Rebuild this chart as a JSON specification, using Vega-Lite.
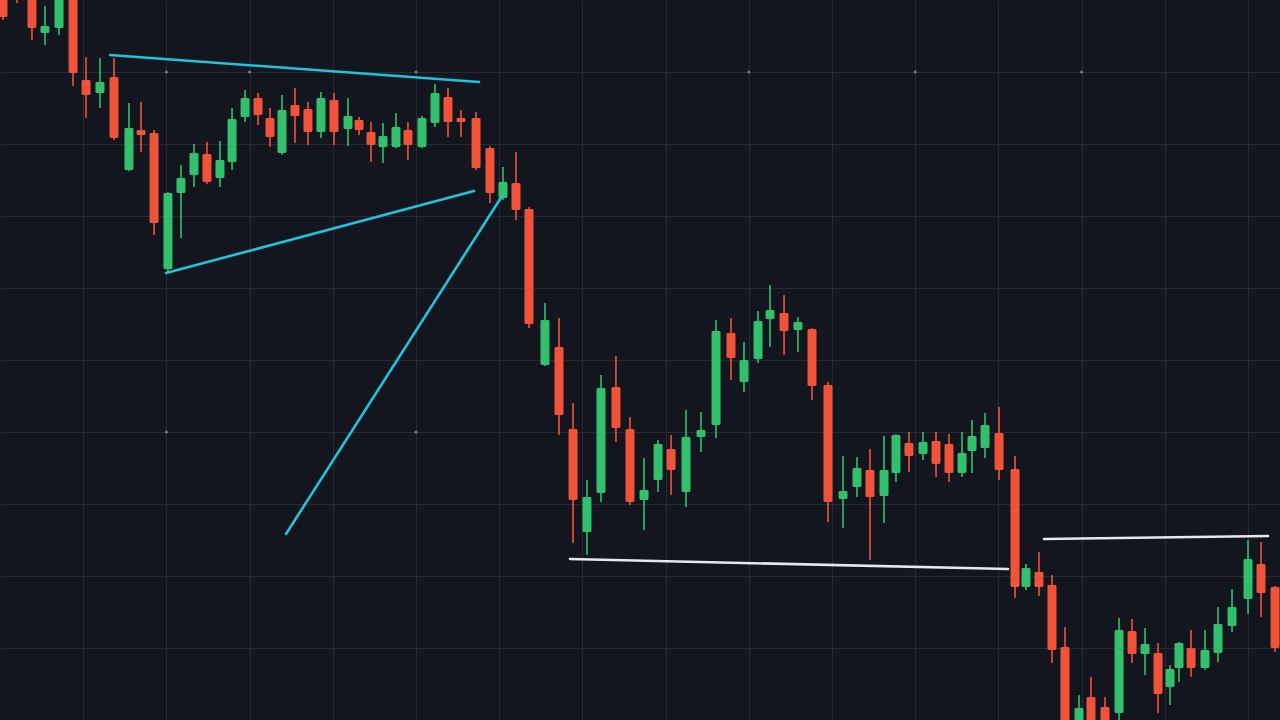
{
  "$schema": "https://vega.github.io/schema/vega-lite/v6.json",
  "autosize": {"type": "fit", "contains": "padding"},
  "width": 1280,
  "height": 720,
  "padding": 0,
  "background": "#13161f",
  "config": {
    "view": {"stroke": null},
    "axis": {"domain": false, "ticks": false, "labels": false, "title": null, "minExtent": 0, "maxExtent": 0, "gridColor": "#272b37", "gridWidth": 1, "gridOpacity": 1}
  },
  "datasets": {
    "candles": [
      {"t":0.23,"o":201.39,"h":202.78,"l":197.22,"c":197.64},
      {"t":1.31,"o":204.17,"h":205.0,"l":199.58,"c":200.69},
      {"t":2.46,"o":200.69,"h":201.39,"l":194.44,"c":196.11},
      {"t":3.46,"o":195.42,"h":199.17,"l":193.75,"c":196.39},
      {"t":4.54,"o":196.11,"h":201.39,"l":195.14,"c":200.69},
      {"t":5.62,"o":200.69,"h":201.39,"l":188.06,"c":189.86},
      {"t":6.62,"o":188.89,"h":192.08,"l":183.61,"c":186.81},
      {"t":7.69,"o":187.08,"h":191.94,"l":185.0,"c":188.61},
      {"t":8.77,"o":189.31,"h":191.94,"l":180.56,"c":180.83},
      {"t":9.92,"o":176.39,"h":185.69,"l":176.2,"c":182.22},
      {"t":10.85,"o":181.94,"h":185.83,"l":178.89,"c":181.25},
      {"t":11.85,"o":181.53,"h":181.94,"l":167.36,"c":169.03},
      {"t":12.92,"o":162.64,"h":173.3,"l":162.22,"c":173.19},
      {"t":13.92,"o":173.19,"h":177.08,"l":166.94,"c":175.28},
      {"t":14.92,"o":175.69,"h":180.0,"l":174.03,"c":178.75},
      {"t":15.92,"o":178.61,"h":180.28,"l":174.4,"c":174.72},
      {"t":16.92,"o":175.28,"h":180.42,"l":174.03,"c":177.78},
      {"t":17.85,"o":177.5,"h":185.0,"l":176.39,"c":183.47},
      {"t":18.85,"o":183.75,"h":187.5,"l":183.06,"c":186.39},
      {"t":19.85,"o":186.39,"h":187.08,"l":182.64,"c":184.03},
      {"t":20.77,"o":183.61,"h":185.0,"l":179.58,"c":180.97},
      {"t":21.69,"o":178.75,"h":186.81,"l":178.5,"c":184.72},
      {"t":22.69,"o":185.42,"h":187.78,"l":180.14,"c":183.89},
      {"t":23.69,"o":184.86,"h":185.83,"l":179.86,"c":181.67},
      {"t":24.69,"o":181.67,"h":187.22,"l":180.83,"c":186.39},
      {"t":25.69,"o":186.11,"h":187.08,"l":179.86,"c":181.67},
      {"t":26.77,"o":182.08,"h":186.39,"l":179.72,"c":183.89},
      {"t":27.62,"o":183.33,"h":183.75,"l":181.25,"c":181.94},
      {"t":28.54,"o":181.67,"h":183.06,"l":177.5,"c":179.86},
      {"t":29.46,"o":179.58,"h":182.92,"l":177.36,"c":181.11},
      {"t":30.46,"o":179.58,"h":184.31,"l":179.4,"c":182.36},
      {"t":31.38,"o":181.94,"h":183.06,"l":177.78,"c":179.86},
      {"t":32.46,"o":179.58,"h":183.89,"l":179.44,"c":183.61},
      {"t":33.46,"o":182.92,"h":188.33,"l":182.36,"c":187.08},
      {"t":34.46,"o":186.53,"h":187.78,"l":180.97,"c":183.06},
      {"t":35.46,"o":183.61,"h":184.72,"l":180.97,"c":183.06},
      {"t":36.62,"o":183.61,"h":184.44,"l":176.39,"c":176.67},
      {"t":37.69,"o":179.44,"h":179.72,"l":171.81,"c":173.19},
      {"t":38.69,"o":172.5,"h":176.81,"l":172.22,"c":174.72},
      {"t":39.69,"o":174.58,"h":178.89,"l":169.44,"c":170.83},
      {"t":40.69,"o":170.97,"h":171.25,"l":154.44,"c":155.0},
      {"t":41.92,"o":149.31,"h":157.92,"l":149.17,"c":155.56},
      {"t":43.0,"o":151.81,"h":155.83,"l":139.58,"c":142.36},
      {"t":44.08,"o":140.42,"h":144.03,"l":124.58,"c":130.56},
      {"t":45.15,"o":126.11,"h":133.33,"l":122.92,"c":130.97},
      {"t":46.23,"o":131.53,"h":147.92,"l":130.28,"c":146.11},
      {"t":47.38,"o":146.25,"h":150.56,"l":138.61,"c":140.56},
      {"t":48.46,"o":140.42,"h":142.08,"l":129.86,"c":130.28},
      {"t":49.54,"o":130.56,"h":136.39,"l":126.39,"c":131.94},
      {"t":50.62,"o":133.33,"h":138.89,"l":131.67,"c":138.33},
      {"t":51.62,"o":137.64,"h":139.58,"l":131.25,"c":134.72},
      {"t":52.77,"o":131.67,"h":143.06,"l":129.58,"c":139.31},
      {"t":53.92,"o":139.31,"h":142.78,"l":137.22,"c":140.28},
      {"t":55.08,"o":140.97,"h":155.56,"l":139.17,"c":154.03},
      {"t":56.23,"o":153.75,"h":155.83,"l":147.22,"c":150.28},
      {"t":57.23,"o":146.94,"h":152.5,"l":145.56,"c":150.0},
      {"t":58.31,"o":150.14,"h":156.81,"l":149.58,"c":155.42},
      {"t":59.23,"o":155.69,"h":160.42,"l":151.81,"c":156.94},
      {"t":60.31,"o":156.53,"h":159.03,"l":150.69,"c":154.03},
      {"t":61.38,"o":154.17,"h":155.97,"l":151.11,"c":155.28},
      {"t":62.46,"o":154.31,"h":154.4,"l":144.44,"c":146.39},
      {"t":63.69,"o":146.53,"h":146.94,"l":127.5,"c":130.28},
      {"t":64.85,"o":130.69,"h":136.67,"l":126.67,"c":131.81},
      {"t":65.92,"o":132.36,"h":136.53,"l":130.97,"c":135.0},
      {"t":66.92,"o":134.72,"h":137.64,"l":122.22,"c":130.97},
      {"t":68.0,"o":131.11,"h":139.44,"l":127.36,"c":134.72},
      {"t":68.92,"o":134.31,"h":139.7,"l":133.06,"c":139.58},
      {"t":69.92,"o":138.47,"h":140.0,"l":134.44,"c":136.67},
      {"t":71.0,"o":136.94,"h":140.0,"l":136.11,"c":138.61},
      {"t":72.0,"o":138.75,"h":140.0,"l":133.75,"c":135.56},
      {"t":73.0,"o":138.33,"h":139.72,"l":133.06,"c":134.31},
      {"t":74.0,"o":134.31,"h":140.0,"l":133.75,"c":137.08},
      {"t":74.77,"o":137.36,"h":141.67,"l":134.31,"c":139.44},
      {"t":75.77,"o":137.78,"h":142.64,"l":136.39,"c":140.97},
      {"t":76.85,"o":139.86,"h":143.47,"l":133.33,"c":134.72},
      {"t":78.08,"o":134.86,"h":136.67,"l":116.94,"c":118.47},
      {"t":78.92,"o":118.47,"h":121.67,"l":118.06,"c":121.11},
      {"t":79.92,"o":120.56,"h":123.33,"l":117.22,"c":118.47},
      {"t":80.92,"o":118.75,"h":120.14,"l":107.92,"c":109.72},
      {"t":81.92,"o":110.14,"h":112.92,"l":98.33,"c":99.31},
      {"t":83.0,"o":99.31,"h":103.47,"l":98.33,"c":101.67},
      {"t":83.92,"o":103.19,"h":105.97,"l":98.33,"c":99.31},
      {"t":85.0,"o":101.81,"h":103.19,"l":98.33,"c":99.31},
      {"t":86.08,"o":100.97,"h":114.17,"l":98.33,"c":112.5},
      {"t":87.08,"o":112.36,"h":114.03,"l":107.92,"c":109.17},
      {"t":88.08,"o":109.17,"h":112.78,"l":106.25,"c":110.56},
      {"t":89.08,"o":109.31,"h":110.69,"l":100.97,"c":103.61},
      {"t":90.0,"o":104.58,"h":107.64,"l":102.08,"c":107.08},
      {"t":90.69,"o":107.22,"h":110.83,"l":105.28,"c":110.69},
      {"t":91.62,"o":110.0,"h":112.5,"l":105.97,"c":107.22},
      {"t":92.69,"o":107.22,"h":112.5,"l":106.94,"c":109.72},
      {"t":93.69,"o":109.31,"h":115.69,"l":108.06,"c":113.33},
      {"t":94.77,"o":113.06,"h":118.19,"l":112.22,"c":115.69},
      {"t":96.0,"o":116.81,"h":125.0,"l":114.72,"c":122.36},
      {"t":97.0,"o":121.67,"h":124.72,"l":114.31,"c":117.64},
      {"t":98.08,"o":118.47,"h":118.61,"l":109.44,"c":110.0}
    ],
    "lines": [
      {"id":"a","kind":"cyan","t":8.46,"p":192.36},
      {"id":"a","kind":"cyan","t":36.85,"p":188.61},
      {"id":"b","kind":"cyan","t":12.77,"p":162.08},
      {"id":"b","kind":"cyan","t":36.46,"p":173.47},
      {"id":"c","kind":"cyan","t":22.0,"p":125.83},
      {"id":"c","kind":"cyan","t":38.62,"p":172.78},
      {"id":"d","kind":"white","t":43.85,"p":122.36},
      {"id":"d","kind":"white","t":77.54,"p":120.97},
      {"id":"e","kind":"white","t":80.31,"p":125.14},
      {"id":"e","kind":"white","t":97.54,"p":125.56}
    ],
    "dots": [
      {"t":12.8,"p":190},
      {"t":19.2,"p":190},
      {"t":32.0,"p":190},
      {"t":57.6,"p":190},
      {"t":70.4,"p":190},
      {"t":83.2,"p":190},
      {"t":12.8,"p":140},
      {"t":32.0,"p":140}
    ]
  },
  "layer": [
    {
      "data": {"name": "candles"},
      "mark": {"type": "rule", "strokeWidth": 1.6, "clip": true},
      "encoding": {
        "x": {"field": "t", "type": "quantitative", "scale": {"domain": [0, 98.46], "nice": false, "zero": false, "padding": 0},
              "axis": {"grid": true, "values": [6.4, 12.8, 19.2, 25.6, 32, 38.4, 44.8, 51.2, 57.6, 64, 70.4, 76.8, 83.2, 89.6, 96]}},
        "y": {"field": "l", "type": "quantitative", "scale": {"domain": [100, 200], "nice": false, "zero": false, "padding": 0},
              "axis": {"grid": true, "values": [110, 120, 130, 140, 150, 160, 170, 180, 190]}},
        "y2": {"field": "h"},
        "color": {"condition": {"test": "datum.o < datum.c", "value": "#33c06c"}, "value": "#f0533a"}
      }
    },
    {
      "data": {"name": "candles"},
      "mark": {"type": "bar", "size": 9, "cornerRadius": 1.5, "clip": true},
      "encoding": {
        "x": {"field": "t", "type": "quantitative"},
        "y": {"field": "o", "type": "quantitative"},
        "y2": {"field": "c"},
        "color": {"condition": {"test": "datum.o < datum.c", "value": "#33c06c"}, "value": "#f0533a"}
      }
    },
    {
      "data": {"name": "dots"},
      "mark": {"type": "circle", "size": 10, "color": "#8b909a", "opacity": 0.8},
      "encoding": {
        "x": {"field": "t", "type": "quantitative"},
        "y": {"field": "p", "type": "quantitative"}
      }
    },
    {
      "data": {"name": "lines"},
      "mark": {"type": "line", "strokeWidth": 2.6, "strokeCap": "round", "clip": true},
      "encoding": {
        "x": {"field": "t", "type": "quantitative"},
        "y": {"field": "p", "type": "quantitative"},
        "detail": {"field": "id"},
        "color": {"field": "kind", "type": "nominal", "scale": {"domain": ["cyan", "white"], "range": ["#22c3da", "#e8e8ec"]}, "legend": null}
      }
    }
  ]
}
